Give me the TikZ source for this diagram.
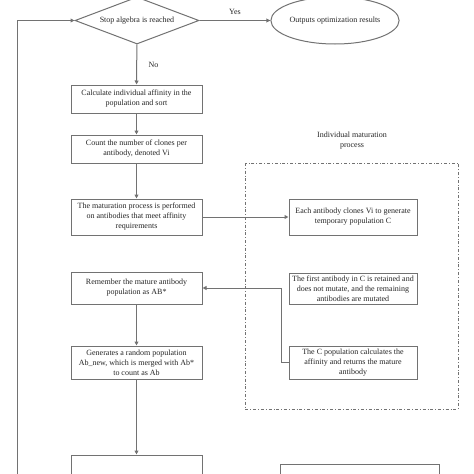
\documentclass[tikz,border=0pt]{standalone}
\usepackage{fontspec}
\setmainfont{Liberation Serif}
\usepackage{tikz}
\usetikzlibrary{shapes.geometric, arrows.meta, positioning}
\definecolor{flowLine}{HTML}{727272}
\definecolor{flowText}{HTML}{262626}

\begin{document}
\begin{tikzpicture}[x=1pt, y=-1pt,
  stepbox/.style={draw=flowLine, line width=1pt, fill=white, align=center,
    text=flowText, font=\fontsize{8}{10}\selectfont, inner sep=1pt},
  decision/.style={diamond, draw=flowLine, line width=1pt, aspect=2.7,
    inner sep=0pt, minimum width=124pt, minimum height=47pt, text=flowText,
    font=\fontsize{8}{10}\selectfont},
  terminal/.style={ellipse, draw=flowLine, line width=1pt, inner sep=0pt,
    minimum width=110pt, minimum height=47pt, text=flowText,
    font=\fontsize{8}{10}\selectfont},
  arr/.style={draw=flowLine, line width=1pt, -{Triangle[length=4pt,width=3.8pt]}},
  lbl/.style={text=flowText, font=\fontsize{8}{10}\selectfont, align=center}]
  \useasboundingbox (0,0) rectangle (474,474);
  \clip (0,0) rectangle (474,474);
  \fill[white] (0,0) rectangle (474,474);

  \node[decision] (stop) at (137,20.5) {Stop algebra is reached};
  \node[terminal] (out) at (335,20.5) {Outputs optimization results};
  \node[stepbox, minimum width=131pt, minimum height=28pt] (calc) at (136.5,99)
    {Calculate individual affinity in the\\population and sort};
  \node[stepbox, minimum width=131pt, minimum height=28pt] (count) at (136.5,149)
    {Count the number of clones per\\antibody, denoted Vi};
  \node[stepbox, minimum width=131pt, minimum height=36pt] (matur) at (136.5,217)
    {The maturation process is performed\\on antibodies that meet affinity\\requirements};
  \node[stepbox, minimum width=131pt, minimum height=32pt] (remem) at (136.5,288)
    {Remember the mature antibody\\population as AB*};
  \node[stepbox, minimum width=131pt, minimum height=33pt] (gener) at (136.5,362.5)
    {Generates a random population\\Ab\_new, which is merged with Ab*\\to count as Ab};
  \node[stepbox, minimum width=131pt, minimum height=40pt] (next) at (136.5,475) {};

  \draw[flowLine, line width=0.7pt, dash dot] (245,163) rectangle (458,409);
  \node[lbl] (frame) at (352,140.5) {Individual maturation\\process};
  \node[stepbox, minimum width=128pt, minimum height=36pt] (clone) at (353,217)
    {Each antibody clones Vi to generate\\temporary population C};
  \node[stepbox, minimum width=128pt, minimum height=31pt] (mutate) at (353,288.5)
    {The first antibody in C is retained and\\does not mutate, and the remaining\\antibodies are mutated};
  \node[stepbox, minimum width=128pt, minimum height=33pt] (back) at (353,362.5)
    {The C population calculates the\\affinity and returns the mature\\antibody};
  \node[stepbox, minimum width=159pt, minimum height=40pt] (side) at (359.5,484) {};

  \coordinate (loop) at (17,20.5);

  \draw[arr] (stop) -- node[lbl, above=2pt] {Yes} (out);
  \draw[arr] (stop) -- node[lbl, right=8pt] {No} (calc);
  \draw[arr] (calc) -- (count);
  \draw[arr] (count) -- (matur);
  \draw[arr] (matur) -- (clone);
  \draw[arr] (back.west) -- ++(-7,0) |- (remem.east);
  \draw[arr] (remem) -- (gener);
  \draw[arr] (gener) -- (next);
  \draw[arr] (next.west) -| (loop) -- (stop.west);
\end{tikzpicture}
\end{document}
